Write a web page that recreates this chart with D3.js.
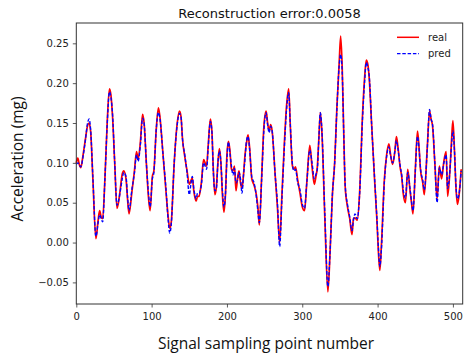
<!DOCTYPE html>
<html>
<head>
<meta charset="utf-8">
<script src="https://cdn.jsdelivr.net/npm/d3@7"></script>
<style>
  html, body { margin: 0; padding: 0; background: #fff; }
  svg { display: block; }
</style>
</head>
<body>
<svg id="chart" width="474" height="360"></svg>
<script>
// ---- data ----
const sampleIdx = [0,2,4,6,9,12,15,17,19,22,26,29,31,33,35,38,41,44,46,48,51,54,56,58,61,63,66,68,70,74,77,80,82,85,88,90,93,96,98,101,103,106,109,111,115,119,122,124,126,130,134,137,139,141,144,147,150,152,154,156,159,161,163,166,169,171,173,175,178,180,182,184,186,188,190,192,194,196,198,200,202,204,206,208,210,212,214,216,218,220,222,224,226,228,230,233,236,239,241,243,246,249,252,254,256,258,260,264,267,270,273,276,279,282,284,287,289,291,294,297,300,303,306,310,313,316,318,320,322,324,326,330,334,337,340,343,346,349,351,353,355,357,360,363,366,368,370,373,376,380,383,385,387,389,392,396,399,401,403,405,409,412,415,417,420,423,425,427,430,432,434,437,440,443,445,447,450,453,455,457,460,462,466,469,471,473,476,479,482,485,488,491,493,496,498,500,502,504,506,508,511];
const realVals = [0.100,0.106,0.098,0.094,0.110,0.129,0.147,0.150,0.140,0.080,0.005,0.028,0.040,0.032,0.030,0.080,0.150,0.193,0.185,0.160,0.100,0.043,0.050,0.064,0.086,0.090,0.080,0.055,0.036,0.065,0.088,0.114,0.104,0.125,0.161,0.150,0.100,0.055,0.040,0.083,0.090,0.140,0.169,0.158,0.112,0.065,0.032,0.018,0.025,0.100,0.150,0.165,0.158,0.130,0.108,0.090,0.073,0.077,0.081,0.065,0.052,0.058,0.058,0.075,0.104,0.100,0.096,0.120,0.155,0.140,0.090,0.060,0.070,0.100,0.118,0.100,0.060,0.038,0.060,0.110,0.127,0.115,0.092,0.090,0.096,0.065,0.080,0.090,0.075,0.068,0.085,0.110,0.125,0.135,0.120,0.080,0.072,0.060,0.045,0.022,0.080,0.145,0.165,0.150,0.140,0.148,0.140,0.085,0.045,0.000,0.060,0.120,0.170,0.193,0.150,0.096,0.092,0.095,0.078,0.062,0.045,0.040,0.075,0.122,0.095,0.073,0.082,0.095,0.130,0.163,0.140,0.030,-0.062,-0.010,0.060,0.100,0.170,0.225,0.259,0.220,0.140,0.070,0.045,0.030,0.010,0.030,0.031,0.028,0.060,0.160,0.210,0.229,0.224,0.205,0.150,0.079,0.030,-0.010,-0.035,-0.005,0.079,0.110,0.124,0.112,0.098,0.115,0.133,0.120,0.094,0.083,0.062,0.050,0.092,0.066,0.050,0.036,0.090,0.140,0.120,0.091,0.075,0.060,0.120,0.165,0.155,0.146,0.100,0.055,0.096,0.080,0.102,0.114,0.058,0.090,0.125,0.153,0.117,0.070,0.048,0.058,0.092];
const predVals = [0.098,0.100,0.097,0.095,0.108,0.128,0.150,0.155,0.142,0.082,0.008,0.025,0.035,0.030,0.026,0.080,0.148,0.189,0.182,0.163,0.100,0.047,0.052,0.062,0.080,0.088,0.083,0.058,0.040,0.068,0.086,0.110,0.102,0.122,0.156,0.150,0.100,0.060,0.045,0.080,0.088,0.140,0.163,0.156,0.112,0.068,0.028,0.012,0.022,0.100,0.148,0.162,0.158,0.130,0.110,0.088,0.060,0.072,0.083,0.068,0.055,0.062,0.062,0.072,0.100,0.096,0.092,0.118,0.152,0.140,0.088,0.065,0.068,0.100,0.115,0.100,0.065,0.045,0.060,0.105,0.126,0.112,0.096,0.085,0.093,0.075,0.078,0.088,0.080,0.062,0.085,0.105,0.128,0.133,0.118,0.082,0.075,0.058,0.040,0.025,0.078,0.140,0.163,0.148,0.138,0.146,0.140,0.085,0.050,-0.005,0.055,0.115,0.165,0.188,0.150,0.098,0.090,0.092,0.075,0.066,0.048,0.043,0.075,0.116,0.100,0.080,0.085,0.092,0.130,0.163,0.142,0.035,-0.055,-0.010,0.060,0.100,0.168,0.222,0.236,0.215,0.140,0.072,0.048,0.032,0.015,0.028,0.036,0.030,0.058,0.155,0.205,0.226,0.220,0.208,0.150,0.081,0.032,-0.005,-0.030,-0.010,0.076,0.108,0.120,0.110,0.100,0.115,0.128,0.118,0.096,0.085,0.066,0.056,0.088,0.068,0.052,0.040,0.088,0.133,0.118,0.093,0.078,0.066,0.118,0.167,0.155,0.148,0.100,0.050,0.094,0.085,0.100,0.110,0.068,0.090,0.120,0.140,0.117,0.072,0.055,0.060,0.090];
const xTicks = [0, 100, 200, 300, 400, 500];
const yTicks = [-0.05, 0.00, 0.05, 0.10, 0.15, 0.20, 0.25];
const seriesNames = ["real", "pred"];
const titleText = "Reconstruction error:0.0058";
const xTitle = "Signal sampling point number";
const yTitle = "Acceleration (mg)";

// ---- layout ----
const L = 76.3, R = 462.7, T = 23, B = 304;
const svg = d3.select("#chart");
const x = d3.scaleLinear().domain([0, 513]).range([L, R]);
const y = d3.scaleLinear().domain([-0.0771, 0.2755]).range([B, T]);

const tickFont = "DejaVu Sans, sans-serif";

// axes
const gx = svg.append("g").attr("transform", `translate(0,${B})`)
  .call(d3.axisBottom(x).tickValues(xTicks).tickSize(3.5).tickPadding(5).tickFormat(d3.format("d")));
const gy = svg.append("g").attr("transform", `translate(${L},0)`)
  .call(d3.axisLeft(y).tickValues(yTicks).tickSize(3.5).tickPadding(4).tickFormat(d3.format(".2f")));
[gx, gy].forEach(g => {
  g.select(".domain").remove();
  g.selectAll(".tick line").attr("stroke", "#333").attr("stroke-width", 0.8);
  g.selectAll(".tick text").attr("fill", "#222").style("font-family", tickFont).style("font-size", "10px");
});

// lines
const lineGen = vals => d3.line().curve(d3.curveMonotoneX)
  .x((d, i) => x(sampleIdx[i])).y(d => y(d))(vals);
svg.append("path").attr("d", lineGen(realVals))
  .attr("fill", "none").attr("stroke", "#ff0000").attr("stroke-width", 1.7).attr("stroke-linejoin", "round");
svg.append("path").attr("d", lineGen(predVals))
  .attr("fill", "none").attr("stroke", "#0000ff").attr("stroke-width", 1.4)
  .attr("stroke-dasharray", "3.5,1.8").attr("stroke-linejoin", "round");

// frame
svg.append("rect").attr("x", L).attr("y", T).attr("width", R - L).attr("height", B - T)
  .attr("fill", "none").attr("stroke", "#333").attr("stroke-width", 1);

// title
svg.append("text").attr("x", (L + R) / 2).attr("y", 17.5).attr("text-anchor", "middle")
  .style("font-family", tickFont).style("font-size", "13px").attr("fill", "#111").text(titleText);

// axis titles
svg.append("text").attr("x", 266).attr("y", 348.5).attr("text-anchor", "middle")
  .style("font-family", "Open Sans, sans-serif").style("font-size", "15.5px").attr("fill", "#111").text(xTitle);
svg.append("text").attr("transform", "translate(23,159) rotate(-90)").attr("text-anchor", "middle")
  .style("font-family", "Open Sans, sans-serif").style("font-size", "15.5px").attr("fill", "#111").text(yTitle);

// legend
const legend = svg.append("g");
const legColors = ["#ff0000", "#0000ff"];
const legDash = [null, "3.5,1.8"];
seriesNames.forEach((name, i) => {
  const ly = 37.3 + i * 16.4;
  legend.append("line").attr("x1", 397).attr("x2", 419).attr("y1", ly).attr("y2", ly)
    .attr("stroke", legColors[i]).attr("stroke-width", i === 0 ? 1.5 : 1.3)
    .attr("stroke-dasharray", legDash[i]);
  legend.append("text").attr("x", 428).attr("y", ly + 3.6)
    .style("font-family", tickFont).style("font-size", "10px").attr("fill", "#222").text(name);
});
</script>
</body>
</html>
